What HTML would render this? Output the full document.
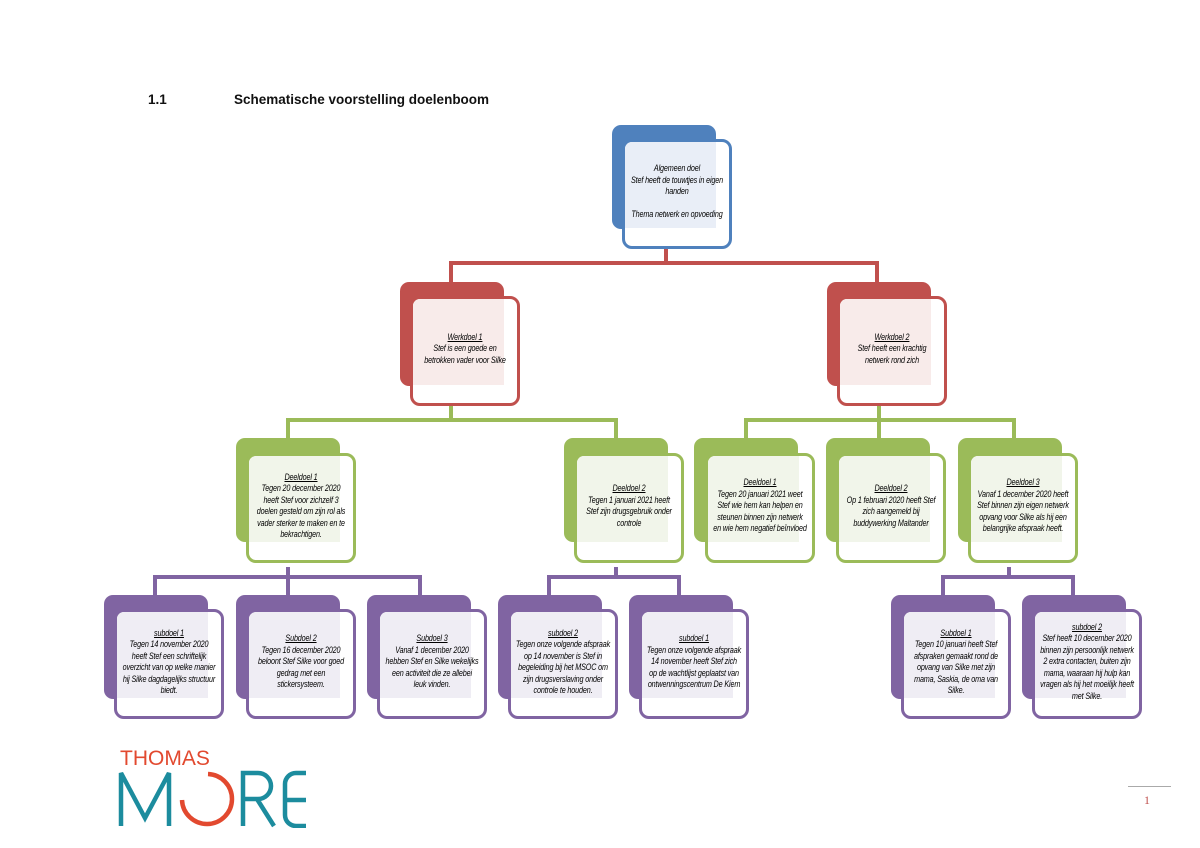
<!DOCTYPE html>
<html><head><meta charset="utf-8"><style>
body{margin:0;width:1200px;height:848px;background:#fff;position:relative;overflow:hidden;font-family:"Liberation Sans",sans-serif}
.a{position:absolute}
.b{position:absolute;width:104px;height:104px;border-radius:9px 9px 4px 9px}
.f{position:absolute;width:110px;height:110px;box-sizing:border-box;border:3px solid;border-radius:10px;background:#fff;overflow:hidden}
.t{position:absolute;left:0;top:0;width:91px;height:86px}
.x{position:absolute;left:0;top:0;right:0;bottom:4px;display:flex;align-items:center;justify-content:center;text-align:center;font-style:italic;font-size:9.5px;line-height:11.5px;letter-spacing:-0.2px;color:#000}
.x span{display:block;flex-shrink:0;width:124px;transform:scaleX(0.76);transform-origin:center}
.x u{text-decoration:underline}
.B .b{background:#4f81bd}.B .f{border-color:#4f81bd}.B .t{background:#e9eef7}
.R .b{background:#c0504d}.R .f{border-color:#c0504d}.R .t{background:#f8ebea}
.G .b{background:#9bbb59}.G .f{border-color:#9bbb59}.G .t{background:#f1f5ea}
.P .b{background:#8064a2}.P .f{border-color:#8064a2}.P .t{background:#efedf4}
.l{position:absolute}
.lr{background:#c0504d}.lg{background:#9bbb59}.lp{background:#8064a2}
</style></head><body>
<div class="a" style="left:148px;top:92px;font-size:13.5px;font-weight:bold;color:#111">1.1</div>
<div class="a" style="left:234px;top:92px;font-size:13.5px;font-weight:bold;color:#111">Schematische voorstelling doelenboom</div>

<div class="l lr" style="left:664px;top:247px;width:4px;height:17px"></div>
<div class="l lr" style="left:449px;top:261px;width:430px;height:4px"></div>
<div class="l lr" style="left:449px;top:261px;width:4px;height:22px"></div>
<div class="l lr" style="left:875px;top:261px;width:4px;height:22px"></div>

<div class="l lg" style="left:449px;top:405px;width:4px;height:15px"></div>
<div class="l lg" style="left:286px;top:418px;width:332px;height:4px"></div>
<div class="l lg" style="left:286px;top:418px;width:4px;height:21px"></div>
<div class="l lg" style="left:614px;top:418px;width:4px;height:21px"></div>
<div class="l lg" style="left:877px;top:405px;width:4px;height:15px"></div>
<div class="l lg" style="left:744px;top:418px;width:272px;height:4px"></div>
<div class="l lg" style="left:744px;top:418px;width:4px;height:21px"></div>
<div class="l lg" style="left:877px;top:418px;width:4px;height:21px"></div>
<div class="l lg" style="left:1012px;top:418px;width:4px;height:21px"></div>

<div class="l lp" style="left:286px;top:567px;width:4px;height:10px"></div>
<div class="l lp" style="left:153px;top:575px;width:269px;height:4px"></div>
<div class="l lp" style="left:153px;top:575px;width:4px;height:21px"></div>
<div class="l lp" style="left:286px;top:575px;width:4px;height:21px"></div>
<div class="l lp" style="left:418px;top:575px;width:4px;height:21px"></div>
<div class="l lp" style="left:614px;top:567px;width:4px;height:10px"></div>
<div class="l lp" style="left:547px;top:575px;width:134px;height:4px"></div>
<div class="l lp" style="left:547px;top:575px;width:4px;height:21px"></div>
<div class="l lp" style="left:677px;top:575px;width:4px;height:21px"></div>
<div class="l lp" style="left:1007px;top:567px;width:4px;height:10px"></div>
<div class="l lp" style="left:941px;top:575px;width:134px;height:4px"></div>
<div class="l lp" style="left:941px;top:575px;width:4px;height:21px"></div>
<div class="l lp" style="left:1071px;top:575px;width:4px;height:21px"></div>

<div class="B"><div class="b" style="left:612px;top:125px"></div><div class="f" style="left:622px;top:139px"><div class="t"></div><div class="x"><span>Algemeen doel<br>Stef heeft de touwtjes in eigen handen<br><br>Thema netwerk en opvoeding</span></div></div></div>

<div class="R"><div class="b" style="left:400px;top:282px"></div><div class="f" style="left:410px;top:296px"><div class="t"></div><div class="x"><span><u>Werkdoel 1</u><br>Stef is een goede en betrokken vader voor Silke</span></div></div></div>
<div class="R"><div class="b" style="left:827px;top:282px"></div><div class="f" style="left:837px;top:296px"><div class="t"></div><div class="x"><span><u>Werkdoel 2</u><br>Stef heeft een krachtig netwerk rond zich</span></div></div></div>

<div class="G"><div class="b" style="left:236px;top:438px"></div><div class="f" style="left:246px;top:453px"><div class="t"></div><div class="x"><span><u>Deeldoel 1</u><br>Tegen 20 december 2020 heeft Stef voor zichzelf 3 doelen gesteld om zijn rol als vader sterker te maken en te bekrachtigen.</span></div></div></div>
<div class="G"><div class="b" style="left:564px;top:438px"></div><div class="f" style="left:574px;top:453px"><div class="t"></div><div class="x"><span><u>Deeldoel 2</u><br>Tegen 1 januari 2021 heeft Stef zijn drugsgebruik onder controle</span></div></div></div>
<div class="G"><div class="b" style="left:694px;top:438px"></div><div class="f" style="left:705px;top:453px"><div class="t"></div><div class="x"><span><u>Deeldoel 1</u><br>Tegen 20 januari 2021 weet Stef wie hem kan helpen en steunen binnen zijn netwerk en wie hem negatief beïnvloed</span></div></div></div>
<div class="G"><div class="b" style="left:826px;top:438px"></div><div class="f" style="left:836px;top:453px"><div class="t"></div><div class="x"><span><u>Deeldoel 2</u><br>Op 1 februari 2020 heeft Stef zich aangemeld bij buddywerking Maltander</span></div></div></div>
<div class="G"><div class="b" style="left:958px;top:438px"></div><div class="f" style="left:968px;top:453px"><div class="t"></div><div class="x"><span><u>Deeldoel 3</u><br>Vanaf 1 december 2020 heeft Stef binnen zijn eigen netwerk opvang voor Silke als hij een belangrijke afspraak heeft.</span></div></div></div>

<div class="P"><div class="b" style="left:104px;top:595px"></div><div class="f" style="left:114px;top:609px"><div class="t"></div><div class="x"><span><u>subdoel 1</u><br>Tegen 14 november 2020 heeft Stef een schriftelijk overzicht van op welke manier hij Silke dagdagelijks structuur biedt.</span></div></div></div>
<div class="P"><div class="b" style="left:236px;top:595px"></div><div class="f" style="left:246px;top:609px"><div class="t"></div><div class="x"><span><u>Subdoel 2</u><br>Tegen 16 december 2020 beloont Stef Silke voor goed gedrag met een stickersysteem.</span></div></div></div>
<div class="P"><div class="b" style="left:367px;top:595px"></div><div class="f" style="left:377px;top:609px"><div class="t"></div><div class="x"><span><u>Subdoel 3</u><br>Vanaf 1 december 2020 hebben Stef en Silke wekelijks een activiteit die ze allebei leuk vinden.</span></div></div></div>
<div class="P"><div class="b" style="left:498px;top:595px"></div><div class="f" style="left:508px;top:609px"><div class="t"></div><div class="x"><span><u>subdoel 2</u><br>Tegen onze volgende afspraak op 14 november is Stef in begeleiding bij het MSOC om zijn drugsverslaving onder controle te houden.</span></div></div></div>
<div class="P"><div class="b" style="left:629px;top:595px"></div><div class="f" style="left:639px;top:609px"><div class="t"></div><div class="x"><span><u>subdoel 1</u><br>Tegen onze volgende afspraak 14 november heeft Stef zich op de wachtlijst geplaatst van ontwenningscentrum De Kiem</span></div></div></div>
<div class="P"><div class="b" style="left:891px;top:595px"></div><div class="f" style="left:901px;top:609px"><div class="t"></div><div class="x"><span><u>Subdoel 1</u><br>Tegen 10 januari heeft Stef afspraken gemaakt rond de opvang van Silke met zijn mama, Saskia, de oma van Silke.</span></div></div></div>
<div class="P"><div class="b" style="left:1022px;top:595px"></div><div class="f" style="left:1032px;top:609px"><div class="t"></div><div class="x"><span><u>subdoel 2</u><br>Stef heeft 10 december 2020 binnen zijn persoonlijk netwerk 2 extra contacten, buiten zijn mama, waaraan hij hulp kan vragen als hij het moeilijk heeft met Silke.</span></div></div></div>

<div class="a" style="left:120px;top:749px;font-size:21px;color:#e2492f;line-height:20px">THOMAS</div>
<svg class="a" style="left:118px;top:770px" width="190" height="58" viewBox="0 0 190 58">
<g fill="none" stroke="#1c8c9e" stroke-width="4.5">
<polyline points="3,56 3,3 27,48 51,3 51,56"/>
<path d="M125,56 V3 H140 A13,13 0 0 1 140,29 H125 M139,29 L156,56"/>
<path d="M188,3 H178 A11,11 0 0 0 167,14 V45 A11,11 0 0 0 178,56 H188 M167,30 H188"/>
</g>
<path d="M90,4 A25,25 0 1 1 64,30" fill="none" stroke="#e2492f" stroke-width="4.5"/>
</svg>

<div class="l" style="left:1128px;top:786px;width:43px;height:1px;background:#aaa"></div>
<div class="a" style="left:1144px;top:793px;font-size:12px;color:#c0504d;font-family:'Liberation Serif',serif">1</div>
</body></html>
